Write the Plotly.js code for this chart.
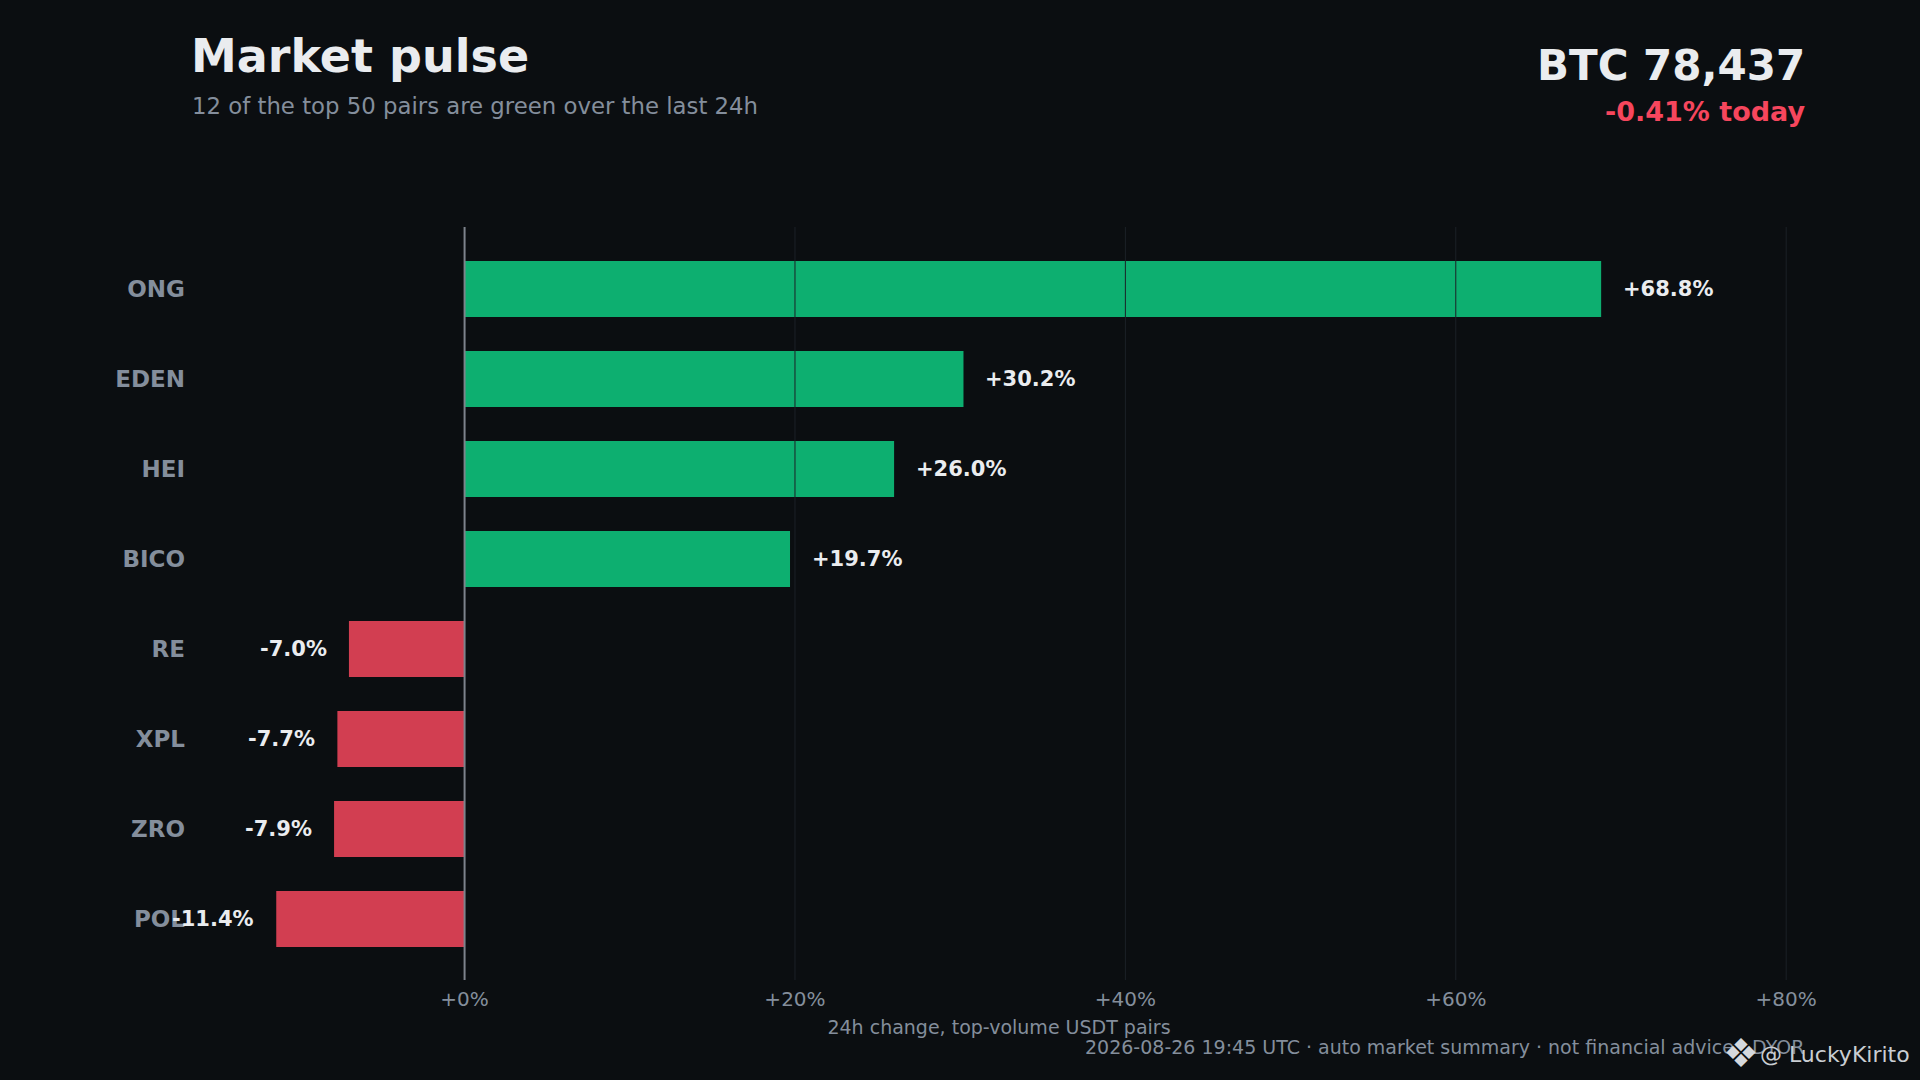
<!DOCTYPE html>
<html>
<head>
<meta charset="utf-8">
<script src="https://cdn.plot.ly/plotly-3.0.1.min.js"></script>
<style>
  html, body { margin: 0; padding: 0; background: #0b0e11; }
  #chart { width: 1920px; height: 1080px; }
</style>
</head>
<body>
<div id="chart"></div>
<script>
// ---- data ----
const symbols = ["ONG", "EDEN", "HEI", "BICO", "RE", "XPL", "ZRO", "POL"];
const changes = [68.8, 30.2, 26.0, 19.7, -7.0, -7.7, -7.9, -11.4];
const tickValues = [0, 20, 40, 60, 80];
const tickLabels = ["+0%", "+20%", "+40%", "+60%", "+80%"];
const titleText = "Market pulse";
const subtitleText = "12 of the top 50 pairs are green over the last 24h";
const btcPrice = "BTC 78,437";
const btcChange = "-0.41% today";
const axisTitle = "24h change, top-volume USDT pairs";
const footerText = "2026-08-26 19:45 UTC · auto market summary · not financial advice · DYOR";
const handle = "@ LuckyKirito";

// ---- layout helpers ----
const W = 1920, H = 1080;
const M = { l: 192, r: 114, t: 227, b: 100 };
const px = x => (x - M.l) / (W - M.l - M.r);
const py = y => (H - M.b - y) / (H - M.t - M.b);

const GREEN = "rgba(14,203,129,0.85)";
const RED = "rgba(246,70,93,0.85)";
const FONT = "DejaVu Sans, Verdana, sans-serif";

const fmt = v => (v >= 0 ? "+" : "") + v.toFixed(1) + "%";

const trace = {
  type: "bar",
  orientation: "h",
  x: changes,
  y: symbols,
  width: 0.62,
  marker: { color: changes.map(v => v >= 0 ? GREEN : RED), line: { width: 0 } },
  hoverinfo: "skip",
  showlegend: false
};

const valueAnnotations = changes.map((v, i) => ({
  x: v, y: symbols[i], xref: "x", yref: "y",
  text: fmt(v), showarrow: false,
  xanchor: v >= 0 ? "left" : "right",
  yanchor: "middle",
  xshift: v >= 0 ? 20 : -20,
  font: { family: FONT, size: 21, color: "#eaecef", weight: "bold" }
}));

const headerAnnotations = [
  { x: px(189), y: py(56), text: titleText, xanchor: "left",
    font: { family: FONT, size: 46, color: "#eaecef", weight: "bold" } },
  { x: px(190), y: py(106), text: subtitleText, xanchor: "left",
    font: { family: FONT, size: 22.8, color: "#848e9c" } },
  { x: px(1807), y: py(66), text: btcPrice, xanchor: "right",
    font: { family: FONT, size: 42, color: "#eaecef", weight: "bold" } },
  { x: px(1807), y: py(112), text: btcChange, xanchor: "right",
    font: { family: FONT, size: 27, color: "#f6465d", weight: "bold" } },
  { x: px(1806), y: py(1047), text: footerText, xanchor: "right",
    font: { family: FONT, size: 19, color: "#848e9c" } },
  { x: px(1741), y: py(1053), text: "❖", xanchor: "center",
    font: { family: FONT, size: 40, color: "#d5d8dc" } },
  { x: px(1912), y: py(1054), text: handle, xanchor: "right",
    font: { family: FONT, size: 22, color: "#c9cdd2" } }
].map(a => Object.assign({ xref: "paper", yref: "paper", yanchor: "middle", showarrow: false }, a));

// grid lines drawn above the bars, at the tick values
const gridShapes = tickValues.filter(v => v !== 0).map(v => ({
  type: "line", xref: "x", yref: "paper", x0: v, x1: v, y0: 0, y1: 1,
  layer: "above", line: { color: "#1c2127", width: 1 }
}));
const zeroShape = {
  type: "line", xref: "x", yref: "paper", x0: 0, x1: 0, y0: 0, y1: 1,
  layer: "above", line: { color: "#7d838c", width: 2 }
};

const layout = {
  width: W, height: H,
  paper_bgcolor: "#0b0e11",
  plot_bgcolor: "#0b0e11",
  margin: M,
  font: { family: FONT, color: "#848e9c" },
  xaxis: {
    range: [-16.5, 81.2],
    tickvals: tickValues,
    ticktext: tickLabels,
    showgrid: false,
    zeroline: false,
    showline: false,
    ticks: "",
    ticklabelstandoff: 5,
    tickfont: { family: FONT, size: 20, color: "#848e9c" },
    title: { text: axisTitle, font: { family: FONT, size: 19, color: "#848e9c" }, standoff: 10 },
    fixedrange: true
  },
  yaxis: {
    type: "category",
    categoryorder: "array",
    categoryarray: symbols,
    range: [7.678, -0.689],
    showgrid: false,
    zeroline: false,
    showline: false,
    ticks: "",
    ticklabelstandoff: 6,
    tickfont: { family: FONT, size: 23, color: "#848e9c", weight: "bold" },
    fixedrange: true
  },
  shapes: gridShapes.concat([zeroShape]),
  annotations: headerAnnotations.concat(valueAnnotations),
  bargap: 0.38
};

Plotly.newPlot("chart", [trace], layout, { staticPlot: true, displayModeBar: false });
</script>
</body>
</html>
